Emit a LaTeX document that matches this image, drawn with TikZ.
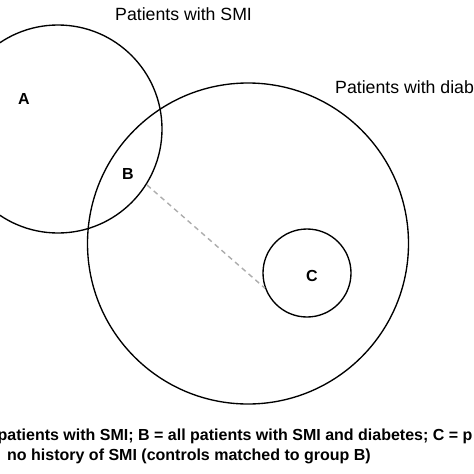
\documentclass[tikz,border=0pt]{standalone}
\usepackage{fontspec}
\setmainfont{Liberation Sans}
\begin{document}
\begin{tikzpicture}[x=1pt,y=-1pt,
  ring/.style={draw=black,line width=1.35pt},
  lbl/.style={inner sep=0pt,font=\fontsize{16}{19}\selectfont\bfseries},
  ttl/.style={inner sep=0pt,anchor=base west,font=\fontsize{17.7}{21}\selectfont},
  captxt/.style={inner sep=0pt,anchor=base west,font=\fontsize{16}{19}\selectfont\bfseries},
  link/.style={draw=black!32,line width=1.4pt,dash pattern=on 5pt off 4pt}]
\useasboundingbox (0,0) rectangle (474,474);
\clip (0,0) rectangle (474,474);
\fill[white] (0,0) rectangle (474,474);
\node[ring,circle,minimum size=208pt,inner sep=0pt] (smi) at (58,129) {};
\node[ring,circle,minimum size=321pt,inner sep=0pt] (dia) at (248,243.5) {};
\node[ring,circle,minimum size=88pt,inner sep=0pt] (cc) at (307,273) {};
\node[lbl] (A) at (24,98.5) {A};
\node[lbl] (B) at (128,173.5) {B};
\node[lbl] (C) at (312,275.5) {C};
\coordinate (bl) at (147,185);
\draw[link] (bl) -- (cc.200);
\node[ttl] (t1) at (115,20) {Patients with SMI};
\node[ttl] (t2) at (335,93) {Patients with diab};
\node[captxt] (c1) at (-2.5,440) {patients with SMI; B = all patients with SMI and diabetes; C = p};
\node[captxt] (c2) at (7,460) {no history of SMI (controls matched to group B)};
\end{tikzpicture}
\end{document}
